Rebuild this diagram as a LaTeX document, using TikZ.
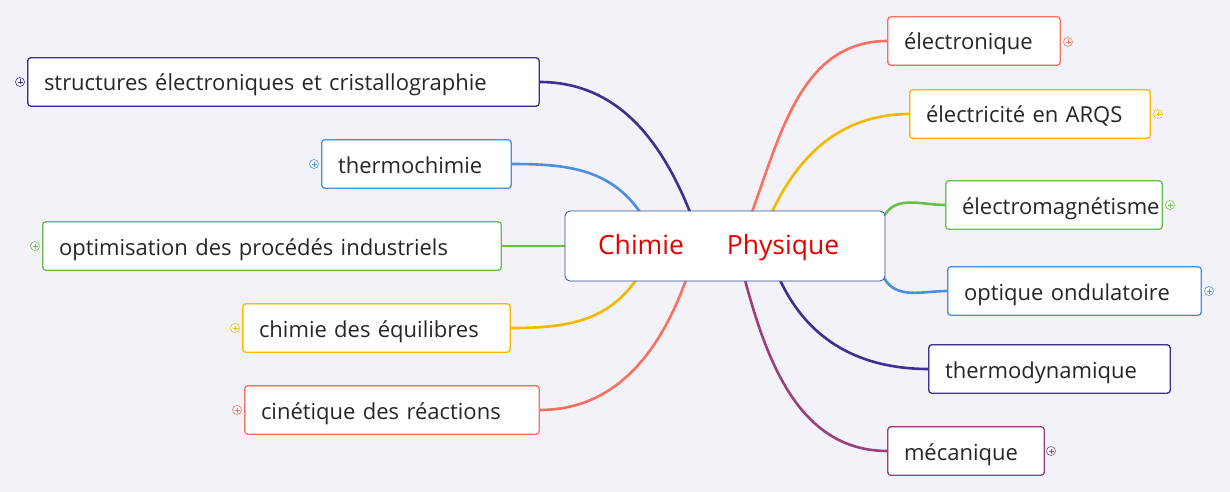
\documentclass[tikz,border=0pt]{standalone}
\usepackage{fontspec}
\setmainfont{Open Sans}
\begin{document}
\begin{tikzpicture}[x=1pt,y=-1pt,
  leaf/.style={draw=#1,fill=white,rounded corners=3pt,minimum height=48pt,inner ysep=0pt,inner xsep=16pt,align=left,font=\fontsize{22}{27}\selectfont,text=black!85,line width=0.8pt,text height=20pt,text depth=2pt},
  conn/.style={draw=#1,line width=2.6pt},
  plusc/.style={draw=#1,fill=white,circle,minimum size=9pt,inner sep=0pt,line width=0.6pt,
    path picture={\draw[#1,line width=0.6pt] ([xshift=-2.5pt]path picture bounding box.center)--([xshift=2.5pt]path picture bounding box.center) ([yshift=-2.5pt]path picture bounding box.center)--([yshift=2.5pt]path picture bounding box.center);}}]
\definecolor{bg}{HTML}{F2F2F8}
\definecolor{cpurple}{HTML}{3F2F8F}
\definecolor{cblue}{HTML}{4A90E2}
\definecolor{cgreen}{HTML}{6ABF4B}
\definecolor{corange}{HTML}{F5B800}
\definecolor{cred}{HTML}{F87060}
\definecolor{cplum}{HTML}{9B3F7F}
\definecolor{cctr}{HTML}{2A4F9E}
\fill[bg] (0,0) rectangle (1230,492);
\useasboundingbox (0,0) rectangle (1230,492);
\coordinate (c1) at (690,212);
\coordinate (c2) at (640,212);
\coordinate (c3) at (566,246);
\coordinate (c4) at (636,280);
\coordinate (c5) at (686,280);
\coordinate (c6) at (752,212);
\coordinate (c7) at (772,212);
\coordinate (c8) at (884,216);
\coordinate (c9) at (884,278);
\coordinate (c10) at (780,280);
\coordinate (c11) at (745,280);
\node[leaf=cpurple,text width=479pt] (n1) at (283.5,82) {\mbox{structures électroniques et cristallographie}};
\node[leaf=cblue,text width=157pt] (n2) at (416.5,164) {\mbox{thermochimie}};
\node[leaf=cgreen,text width=426pt] (n3) at (272,246) {\mbox{optimisation des procédés industriels}};
\node[leaf=corange,text width=235pt] (n4) at (376.5,328) {\mbox{chimie des équilibres}};
\node[leaf=cred,text width=262pt] (n5) at (392,410) {\mbox{cinétique des réactions}};
\node[leaf=cred,text width=140pt] (n6) at (974,41) {\mbox{électronique}};
\node[leaf=corange,text width=208pt] (n7) at (1030,114) {\mbox{électricité en ARQS}};
\node[leaf=cgreen,text width=184pt] (n8) at (1054,205) {\mbox{électromagnétisme}};
\node[leaf=cblue,text width=221pt] (n9) at (1074.5,291) {\mbox{optique ondulatoire}};
\node[leaf=cpurple,text width=209pt] (n10) at (1049.5,369) {\mbox{thermodynamique}};
\node[leaf=cplum,text width=124pt] (n11) at (966,451) {\mbox{mécanique}};
\draw[conn=cpurple] (n1.east) to[out=0,in=112] (c1);
\draw[conn=cblue] (n2.east) to[out=0,in=125] (c2);
\draw[conn=cgreen] (n3.east) -- (c3);
\draw[conn=corange] (n4.east) to[out=0,in=-125] (c4);
\draw[conn=cred] (n5.east) to[out=0,in=-110] (c5);
\draw[conn=cred] (n6.west) to[out=180,in=70] (c6);
\draw[conn=corange] (n7.west) to[out=180,in=65] (c7);
\draw[conn=cgreen] (n8.west) to[out=180,in=60] (c8);
\draw[conn=cblue] (n9.west) to[out=180,in=-60] (c9);
\draw[conn=cpurple] (n10.west) to[out=180,in=-65] (c10);
\draw[conn=cplum] (n11.west) to[out=180,in=-75] (c11);
\foreach \n/\c in {n1/cpurple,n2/cblue,n3/cgreen,n4/corange,n5/cred,n6/cred,n7/corange,n8/cgreen,n9/cblue,n10/cpurple,n11/cplum}{
  \draw[\c,line width=0.8pt,rounded corners=3pt] (\n.south west) rectangle (\n.north east);}
\node[draw=cctr,fill=white,rounded corners=5pt,line width=0.8pt,minimum height=70pt,inner xsep=33pt,text width=254pt,align=left,text height=21pt,text depth=4pt,font=\fontsize{26.5}{30}\selectfont,text=red!90!black] (ctr) at (725,246) {\mbox{Chimie\hspace{43pt}Physique}};
\node[plusc=cpurple] (p1) at (20,82) {};
\node[plusc=cblue] (p2) at (314,164) {};
\node[plusc=cgreen] (p3) at (35,246) {};
\node[plusc=corange] (p4) at (235,328) {};
\node[plusc=cred] (p5) at (237,410) {};
\node[plusc=cred] (p6) at (1068,42) {};
\node[plusc=corange] (p7) at (1158,114) {};
\node[plusc=cgreen] (p8) at (1170,205) {};
\node[plusc=cblue] (p9) at (1209,291) {};
\node[plusc=cplum] (p11) at (1051,451) {};
\end{tikzpicture}
\end{document}
